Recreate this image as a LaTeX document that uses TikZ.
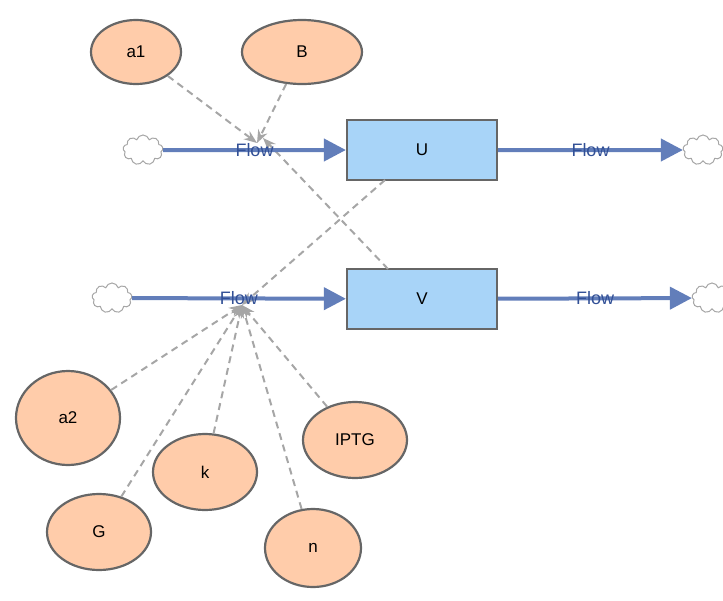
\documentclass[tikz,border=0pt]{standalone}
\usepackage{fontspec}
\setmainfont{Liberation Sans}
\usetikzlibrary{shapes.symbols,shapes.geometric,arrows.meta}
\definecolor{aux}{RGB}{255,204,170}
\definecolor{stockfill}{RGB}{168,212,248}
\definecolor{flowblue}{RGB}{98,126,186}
\definecolor{flowtext}{RGB}{50,80,150}
\tikzset{
  var/.style={draw=black!60,line width=2.2pt,fill=aux,ellipse,font=\fontsize{17}{20}\selectfont},
  stock/.style={draw=black!60,line width=2.2pt,fill=stockfill,minimum width=150pt,minimum height=60pt,font=\fontsize{17}{20}\selectfont},
  sky/.style={cloud,cloud puffs=9,draw=black!35,line width=1pt,fill=white,minimum width=40pt,minimum height=30pt,inner sep=0pt},
  flow/.style={flowblue,line width=4pt,-{Triangle[length=22pt,width=22pt]}},
  flowlab/.style={text=flowtext,font=\fontsize{18}{20}\selectfont,inner sep=1pt},
  link/.style={black!35,line width=2pt,dash pattern=on 7pt off 5pt,-{Stealth[length=13pt,width=10pt]}}
}
\begin{document}
\begin{tikzpicture}[x=1pt,y=-1pt]
\useasboundingbox (0,0) rectangle (723,600);
% stocks
\node[stock] (U) at (422,150) {U};
\node[stock] (V) at (422,299) {V};
% clouds
\node[sky] (s1) at (143,150) {};
\node[sky] (k1) at (703,150) {};
\node[sky] (s2) at (112,298) {};
\node[sky] (k2) at (712,298) {};
% valves
\coordinate (v1) at (257,143);
\coordinate (v2) at (242,305);
% variables
\node[var,minimum width=90pt,minimum height=64pt] (a1) at (136,52) {a1};
\node[var,minimum width=120pt,minimum height=64pt] (B) at (302,52) {B};
\node[var,minimum width=104pt,minimum height=94pt] (a2) at (68,418) {a2};
\node[var,minimum width=104pt,minimum height=76pt] (k) at (205,472) {k};
\node[var,minimum width=104pt,minimum height=76pt] (G) at (99,532) {G};
\node[var,minimum width=104pt,minimum height=76pt] (IPTG) at (355,440) {IPTG};
\node[var,minimum width=96pt,minimum height=78pt] (n) at (313,548) {n};
% links
\draw[link] (a1) -- (v1);
\draw[link] (B) -- (v1);
\coordinate (vt) at (388,269);
\coordinate (ub) at (385,180);
\draw[link] (vt) -- (263,138);
\draw[link] (ub) -- (v2);
\foreach \n in {a2,k,G,IPTG,n}
  \draw[link] (\n) -- (v2);
% flows
\draw[flow] (s1) -- (U) node[flowlab,pos=0.5] {Flow};
\draw[flow] (U) -- (k1) node[flowlab,pos=0.5] {Flow};
\draw[flow] (s2) -- (V) node[flowlab,pos=0.5] {Flow};
\draw[flow] (V) -- (k2) node[flowlab,pos=0.5] {Flow};
\end{tikzpicture}
\end{document}
